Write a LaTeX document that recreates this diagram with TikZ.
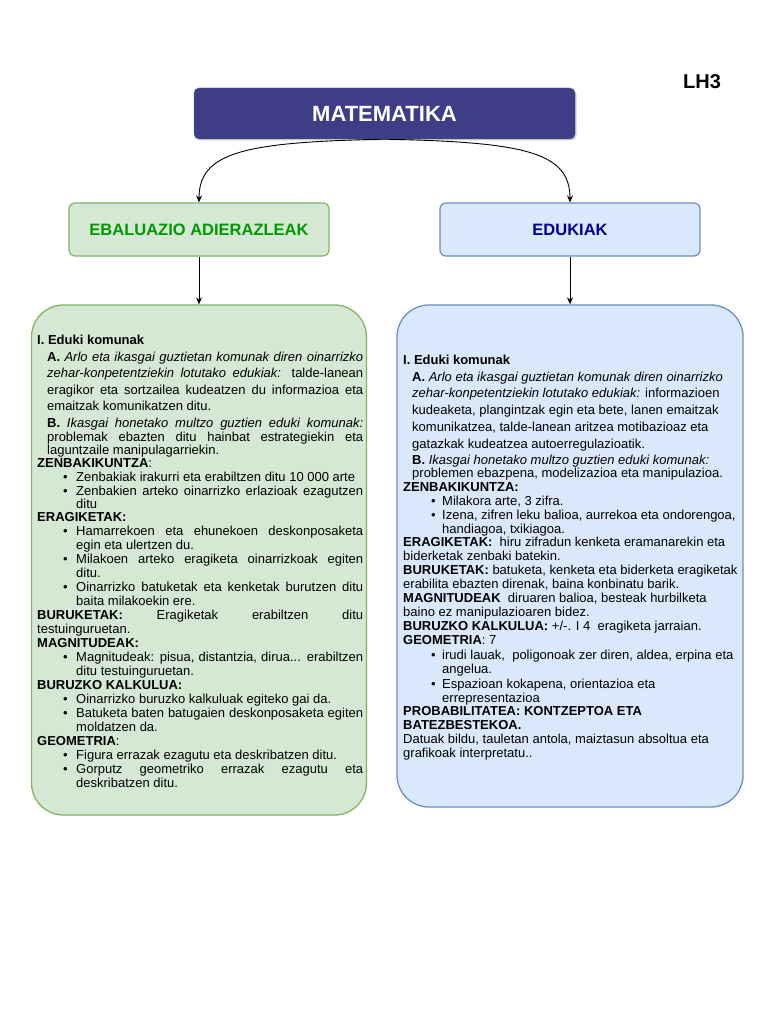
\documentclass[tikz,border=0pt]{standalone}
\usepackage{fontspec}
\setmainfont{Liberation Sans}
\usetikzlibrary{arrows.meta,shadows}
\definecolor{matfill}{RGB}{62,62,134}
\definecolor{gfill}{HTML}{D5E8D4}
\definecolor{gdraw}{HTML}{82B366}
\definecolor{bfill}{HTML}{DAE8FC}
\definecolor{bdraw}{HTML}{6C8EBF}
\definecolor{gtext}{HTML}{009900}
\definecolor{btext}{HTML}{000099}
\tikzset{
  txt/.style={anchor=base west, inner sep=0pt, font=\fontsize{13}{15}\selectfont},
  arr/.style={draw=black, line width=0.9pt, -{Stealth[length=7pt,width=6pt]}},
  hbox/.style={rounded corners=6pt, line width=1.2pt, minimum width=260pt, minimum height=53pt, font=\fontsize{16.5}{19}\selectfont\bfseries},
  bigbox/.style={rounded corners=32pt, line width=1.3pt},
}
\newcommand{\jl}[2]{\makebox[#1pt][s]{#2}}
\newcommand{\bul}{•}
\begin{document}
\begin{tikzpicture}[x=1pt,y=-1pt]
\useasboundingbox (0,0) rectangle (768,1024);
\fill[white] (0,0) rectangle (768,1024);

% top
\node[anchor=center, font=\fontsize{20}{24}\selectfont\bfseries, inner sep=0pt] (lh) at (702,82) {LH3};
\node[fill=matfill, draw=matfill!80!white, rounded corners=5pt, minimum width=381pt, minimum height=51pt,
      text=white, font=\fontsize{22}{26}\selectfont\bfseries,
      drop shadow={shadow xshift=1.5pt, shadow yshift=-1.5pt, fill=black!30, opacity=0.6}] (mat) at (384.5,113.5) {MATEMATIKA};

\node[hbox, fill=gfill, draw=gdraw, text=gtext] (eb) at (199,229.5) {EBALUAZIO ADIERAZLEAK};
\node[hbox, fill=bfill, draw=bdraw, text=btext] (ed) at (570,229.5) {EDUKIAK};

\node[bigbox, fill=gfill, draw=gdraw, minimum width=335pt, minimum height=510pt] (lb) at (199,560) {};
\node[bigbox, fill=bfill, draw=bdraw, minimum width=346pt, minimum height=502pt] (rb) at (570,556) {};

\draw[arr] (mat.south) .. controls (245,142) and (199,152) .. (eb.north);
\draw[arr] (mat.south) .. controls (524,142) and (570,152) .. (ed.north);
\draw[arr] (eb.south) -- (lb.north);
\draw[arr] (ed.south) -- (rb.north);

% left text
\node[txt] (l1) at (37,344) {\textbf{I. Eduki komunak}};
\node[txt] (l2) at (47,361) {\jl{316}{\textbf{A.} \textit{Arlo eta ikasgai guztietan komunak diren oinarrizko}}};
\node[txt] (l3) at (47,377) {\jl{316}{\textit{zehar-konpetentziekin lotutako edukiak:} talde-lanean}};
\node[txt] (l4) at (47,394) {\jl{316}{eragikor eta sortzailea kudeatzen du informazioa eta}};
\node[txt] (l5) at (47,410) {emaitzak komunikatzen ditu.};
\node[txt] (l6) at (47,427) {\jl{316}{\textbf{B.} \textit{Ikasgai honetako multzo guztien eduki komunak:}}};
\node[txt] (l7) at (47,441) {\jl{316}{problemak ebazten ditu hainbat estrategiekin eta}};
\node[txt] (l8) at (47,454) {laguntzaile manipulagarriekin.};
\node[txt] (l9) at (37,467) {\textbf{ZENBAKIKUNTZA}:};
\node[txt] (l10b) at (63,481) {\bul};
\node[txt] (l10) at (76,481) {Zenbakiak irakurri eta erabiltzen ditu 10 000 arte};
\node[txt] (l11b) at (63,495) {\bul};
\node[txt] (l11) at (76,495) {\jl{287}{Zenbakien arteko oinarrizko erlazioak ezagutzen}};
\node[txt] (l12) at (76,508) {ditu};
\node[txt] (l13) at (37,521) {\textbf{ERAGIKETAK:}};
\node[txt] (l14b) at (63,535) {\bul};
\node[txt] (l14) at (76,535) {\jl{287}{Hamarrekoen eta ehunekoen deskonposaketa}};
\node[txt] (l15) at (76,549) {egin eta ulertzen du.};
\node[txt] (l16b) at (63,563) {\bul};
\node[txt] (l16) at (76,563) {\jl{287}{Milakoen arteko eragiketa oinarrizkoak egiten}};
\node[txt] (l17) at (76,577) {ditu.};
\node[txt] (l18b) at (63,591) {\bul};
\node[txt] (l18) at (76,591) {\jl{287}{Oinarrizko batuketak eta kenketak burutzen ditu}};
\node[txt] (l19) at (76,605) {baita milakoekin ere.};
\node[txt] (l20) at (37,619) {\jl{326}{\textbf{BURUKETAK:} Eragiketak erabiltzen ditu}};
\node[txt] (l21) at (37,633) {testuinguruetan.};
\node[txt] (l22) at (37,647) {\textbf{MAGNITUDEAK:}};
\node[txt] (l23b) at (63,661) {\bul};
\node[txt] (l23) at (76,661) {\jl{287}{Magnitudeak: pisua, distantzia, dirua... erabiltzen}};
\node[txt] (l24) at (76,675) {ditu testuinguruetan.};
\node[txt] (l25) at (37,689) {\textbf{BURUZKO KALKULUA:}};
\node[txt] (l26b) at (63,703) {\bul};
\node[txt] (l26) at (76,703) {Oinarrizko buruzko kalkuluak egiteko gai da.};
\node[txt] (l27b) at (63,717) {\bul};
\node[txt] (l27) at (76,717) {\jl{287}{Batuketa baten batugaien deskonposaketa egiten}};
\node[txt] (l28) at (76,731) {moldatzen da.};
\node[txt] (l29) at (37,745) {\textbf{GEOMETRIA}:};
\node[txt] (l30b) at (63,759) {\bul};
\node[txt] (l30) at (76,759) {Figura errazak ezagutu eta deskribatzen ditu.};
\node[txt] (l31b) at (63,773) {\bul};
\node[txt] (l31) at (76,773) {\jl{287}{Gorputz geometriko errazak ezagutu eta}};
\node[txt] (l32) at (76,787) {deskribatzen ditu.};

% right text
\node[txt] (r1) at (403,364) {\textbf{I. Eduki komunak}};
\node[txt] (r2) at (412,381) {\textbf{A.} \textit{Arlo eta ikasgai guztietan komunak diren oinarrizko}};
\node[txt] (r3) at (412,397) {\textit{zehar-konpetentziekin lotutako edukiak:} informazioen};
\node[txt] (r4) at (412,414) {kudeaketa, plangintzak egin eta bete, lanen emaitzak};
\node[txt] (r5) at (412,431) {komunikatzea, talde-lanean aritzea motibazioaz eta};
\node[txt] (r6) at (412,448) {gatazkak kudeatzea autoerregulazioatik.};
\node[txt] (r7) at (412,464) {\textbf{B.} \textit{Ikasgai honetako multzo guztien eduki komunak:}};
\node[txt] (r8) at (412,477) {problemen ebazpena, modelizazioa eta manipulazioa.};
\node[txt] (r9) at (403,491) {\textbf{ZENBAKIKUNTZA:}};
\node[txt] (r10b) at (431,505) {\bul};
\node[txt] (r10) at (442,505) {Milakora arte, 3 zifra.};
\node[txt] (r11b) at (431,519) {\bul};
\node[txt] (r11) at (442,519) {Izena, zifren leku balioa, aurrekoa eta ondorengoa,};
\node[txt] (r12) at (442,533) {handiagoa, txikiagoa.};
\node[txt] (r13) at (403,546) {\textbf{ERAGIKETAK:}\ \ hiru zifradun kenketa eramanarekin eta};
\node[txt] (r14) at (403,560) {biderketak zenbaki batekin.};
\node[txt] (r15) at (403,574) {\textbf{BURUKETAK:} batuketa, kenketa eta biderketa eragiketak};
\node[txt] (r16) at (403,588) {erabilita ebazten direnak, baina konbinatu barik.};
\node[txt] (r17) at (403,602) {\textbf{MAGNITUDEAK}\ \ diruaren balioa, besteak hurbilketa};
\node[txt] (r18) at (403,616) {baino ez manipulazioaren bidez.};
\node[txt] (r19) at (403,630) {\textbf{BURUZKO KALKULUA:} +/-. I 4\ \ eragiketa jarraian.};
\node[txt] (r20) at (403,644) {\textbf{GEOMETRIA}: 7};
\node[txt] (r21b) at (431,659) {\bul};
\node[txt] (r21) at (442,659) {irudi lauak,\ \ poligonoak zer diren, aldea, erpina eta};
\node[txt] (r22) at (442,673) {angelua.};
\node[txt] (r23b) at (431,688) {\bul};
\node[txt] (r23) at (442,688) {Espazioan kokapena, orientazioa eta};
\node[txt] (r24) at (442,702) {errepresentazioa};
\node[txt] (r25) at (403,715) {\textbf{PROBABILITATEA: KONTZEPTOA ETA}};
\node[txt] (r26) at (403,729) {\textbf{BATEZBESTEKOA.}};
\node[txt] (r27) at (403,743) {Datuak bildu, tauletan antola, maiztasun absoltua eta};
\node[txt] (r28) at (403,757) {grafikoak interpretatu..};
\end{tikzpicture}
\end{document}
